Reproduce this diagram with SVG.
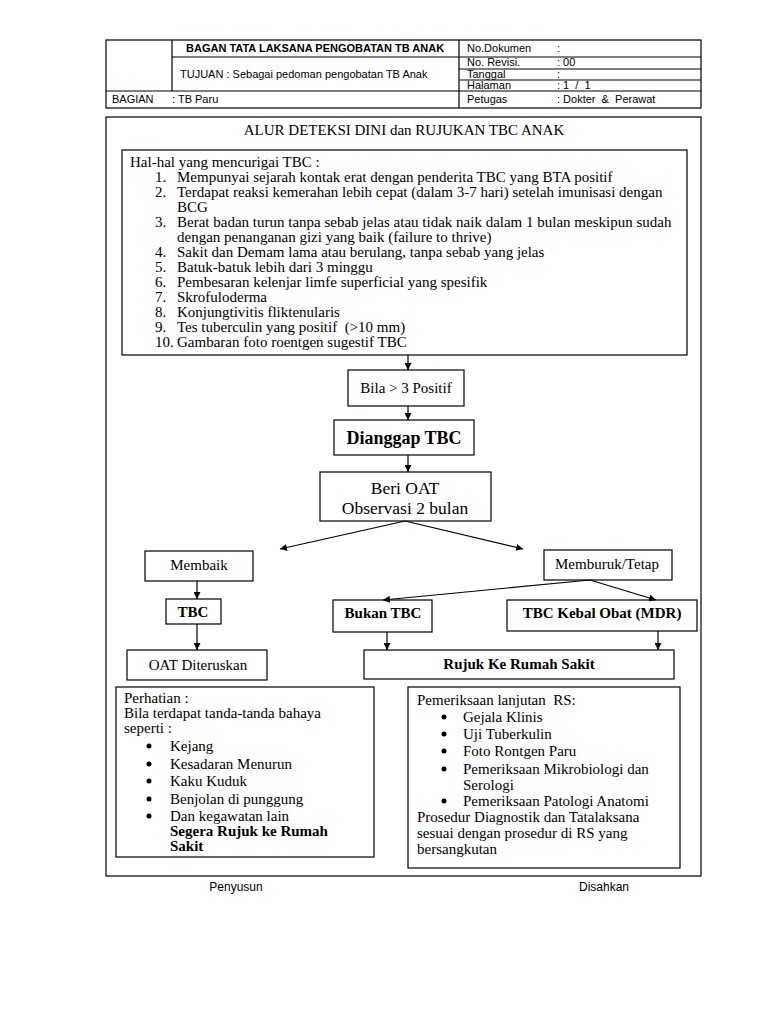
<svg xmlns="http://www.w3.org/2000/svg" width="768" height="1024" viewBox="0 0 768 1024">
<defs>
<style>
.bx{fill:#fff;stroke:#000;stroke-width:1.2}
.ln{fill:none;stroke:#000;stroke-width:1.2}
.hd{font-family:"Liberation Sans",Arial,sans-serif;font-size:11px;fill:#000}
.hb{font-family:"Liberation Sans",Arial,sans-serif;font-size:11px;font-weight:bold;fill:#000}
.s{font-family:"Liberation Serif","Times New Roman",serif;font-size:15px;fill:#000}
.sb{font-family:"Liberation Serif","Times New Roman",serif;font-size:15px;font-weight:bold;fill:#000}
.c{text-anchor:middle}
.con{fill:none;stroke:#000;stroke-width:1.2;marker-end:url(#ah)}
</style>
<marker id="ah" viewBox="0 0 10 10" refX="10" refY="5" markerWidth="7" markerHeight="7" markerUnits="userSpaceOnUse" orient="auto">
<path d="M0,0 L10,5 L0,10 z" fill="#000"/>
</marker>
</defs>
<rect width="768" height="1024" fill="#fff"/>

<g id="header">
<rect class="bx" x="106" y="40" width="595" height="68"/>
<line class="ln" x1="172" y1="40" x2="172" y2="91"/>
<line class="ln" x1="459" y1="40" x2="459" y2="108"/>
<line class="ln" x1="172" y1="57" x2="701" y2="57"/>
<line class="ln" x1="459" y1="69" x2="701" y2="69"/>
<line class="ln" x1="459" y1="80" x2="701" y2="80"/>
<line class="ln" x1="106" y1="91" x2="701" y2="91"/>
<text class="hb" x="186" y="52">BAGAN TATA LAKSANA PENGOBATAN TB ANAK</text>
<text class="hd" x="180" y="78">TUJUAN : Sebagai pedoman pengobatan TB Anak</text>
<text class="hd" x="112" y="103">BAGIAN</text>
<text class="hd" x="172" y="103">: TB Paru</text>
<text class="hd" x="467" y="52">No.Dokumen</text>
<text class="hd" x="557" y="52">:</text>
<text class="hd" x="467" y="66">No. Revisi.</text>
<text class="hd" x="557" y="66">: 00</text>
<text class="hd" x="467" y="78">Tanggal</text>
<text class="hd" x="557" y="78">:</text>
<text class="hd" x="467" y="89">Halaman</text>
<text class="hd" x="557" y="89" xml:space="preserve">: 1  /  1</text>
<text class="hd" x="467" y="103">Petugas</text>
<text class="hd" x="557" y="103" xml:space="preserve">: Dokter  &amp;  Perawat</text>
</g>

<rect class="bx" x="106" y="117" width="595" height="759"/>
<text class="s c" x="404" y="135">ALUR DETEKSI DINI dan RUJUKAN TBC ANAK</text>

<g id="criteria">
<rect class="bx" x="122" y="150" width="565" height="205"/>
<text class="s" x="130" y="167">Hal-hal yang mencurigai TBC :</text>
<text class="s" x="155" y="182">1.</text><text class="s" x="177" y="182">Mempunyai sejarah kontak erat dengan penderita TBC yang BTA positif</text>
<text class="s" x="155" y="197">2.</text><text class="s" x="177" y="197">Terdapat reaksi kemerahan lebih cepat (dalam 3-7 hari) setelah imunisasi dengan</text>
<text class="s" x="177" y="212">BCG</text>
<text class="s" x="155" y="227">3.</text><text class="s" x="177" y="227">Berat badan turun tanpa sebab jelas atau tidak naik dalam 1 bulan meskipun sudah</text>
<text class="s" x="177" y="242">dengan penanganan gizi yang baik (failure to thrive)</text>
<text class="s" x="155" y="257">4.</text><text class="s" x="177" y="257">Sakit dan Demam lama atau berulang, tanpa sebab yang jelas</text>
<text class="s" x="155" y="272">5.</text><text class="s" x="177" y="272">Batuk-batuk lebih dari 3 minggu</text>
<text class="s" x="155" y="287">6.</text><text class="s" x="177" y="287">Pembesaran kelenjar limfe superficial yang spesifik</text>
<text class="s" x="155" y="302">7.</text><text class="s" x="177" y="302">Skrofuloderma</text>
<text class="s" x="155" y="317">8.</text><text class="s" x="177" y="317">Konjungtivitis fliktenularis</text>
<text class="s" x="155" y="332">9.</text><text class="s" x="177" y="332" xml:space="preserve">Tes tuberculin yang positif  (&gt;10 mm)</text>
<text class="s" x="155" y="347">10.</text><text class="s" x="177" y="347">Gambaran foto roentgen sugestif TBC</text>
</g>

<g id="bila">
<rect class="bx" x="348" y="370" width="116" height="36"/>
<text class="s c" x="406" y="393">Bila &gt; 3 Positif</text>
</g>
<g id="dianggap">
<rect class="bx" x="334" y="420" width="140" height="35"/>
<text class="sb c" x="404" y="444" style="font-size:18px">Dianggap TBC</text>
</g>
<g id="beri">
<rect class="bx" x="320" y="472" width="171" height="49"/>
<text class="s c" x="405" y="494" style="font-size:17.5px">Beri OAT</text>
<text class="s c" x="405" y="514" style="font-size:17.5px">Observasi 2 bulan</text>
</g>
<g id="membaik">
<rect class="bx" x="145" y="551" width="108" height="30"/>
<text class="s c" x="199" y="570">Membaik</text>
</g>
<g id="memburuk">
<rect class="bx" x="544" y="550" width="128" height="30"/>
<text class="s c" x="607" y="569">Memburuk/Tetap</text>
</g>
<g id="tbc">
<rect class="bx" x="166" y="599" width="55" height="25"/>
<text class="sb c" x="193" y="617">TBC</text>
</g>
<g id="bukan">
<rect class="bx" x="333" y="600" width="99" height="32"/>
<text class="sb c" x="383" y="618">Bukan TBC</text>
</g>
<g id="mdr">
<rect class="bx" x="507" y="600" width="190" height="31"/>
<text class="sb c" x="602" y="618">TBC Kebal Obat (MDR)</text>
</g>
<g id="oat">
<rect class="bx" x="127" y="650" width="140" height="30"/>
<text class="s c" x="198" y="670">OAT Diteruskan</text>
</g>
<g id="rujuk">
<rect class="bx" x="364" y="650" width="310" height="29"/>
<text class="sb c" x="519" y="669">Rujuk Ke Rumah Sakit</text>
</g>

<g id="perhatian">
<rect class="bx" x="116" y="687" width="258" height="170"/>
<text class="s" x="124" y="703">Perhatian :</text>
<text class="s" x="124" y="718">Bila terdapat tanda-tanda bahaya</text>
<text class="s" x="124" y="733">seperti :</text>
<circle cx="149" cy="746" r="2.5"/><text class="s" x="170" y="751">Kejang</text>
<circle cx="149" cy="764" r="2.5"/><text class="s" x="170" y="769">Kesadaran Menurun</text>
<circle cx="149" cy="781" r="2.5"/><text class="s" x="170" y="786">Kaku Kuduk</text>
<circle cx="149" cy="799" r="2.5"/><text class="s" x="170" y="804">Benjolan di punggung</text>
<circle cx="149" cy="816" r="2.5"/><text class="s" x="170" y="821">Dan kegawatan lain</text>
<text class="sb" x="170" y="836">Segera Rujuk ke Rumah</text>
<text class="sb" x="170" y="851">Sakit</text>
</g>

<g id="pemeriksaan">
<rect class="bx" x="408" y="687" width="272" height="181"/>
<text class="s" x="417" y="705" xml:space="preserve">Pemeriksaan lanjutan  RS:</text>
<circle cx="444" cy="717" r="2.5"/><text class="s" x="463" y="722">Gejala Klinis</text>
<circle cx="444" cy="734" r="2.5"/><text class="s" x="463" y="739">Uji Tuberkulin</text>
<circle cx="444" cy="751" r="2.5"/><text class="s" x="463" y="756">Foto Rontgen Paru</text>
<circle cx="444" cy="769" r="2.5"/><text class="s" x="463" y="774">Pemeriksaan Mikrobiologi dan</text>
<text class="s" x="463" y="790">Serologi</text>
<circle cx="444" cy="801" r="2.5"/><text class="s" x="463" y="806">Pemeriksaan Patologi Anatomi</text>
<text class="s" x="417" y="822">Prosedur Diagnostik dan Tatalaksana</text>
<text class="s" x="417" y="838">sesuai dengan prosedur di RS yang</text>
<text class="s" x="417" y="854">bersangkutan</text>
</g>

<g id="connectors">
<line class="con" x1="408" y1="355" x2="408" y2="370"/>
<line class="con" x1="408" y1="406" x2="408" y2="420"/>
<line class="con" x1="408" y1="455" x2="408" y2="472"/>
<line class="con" x1="405" y1="521" x2="280" y2="549"/>
<line class="con" x1="405" y1="521" x2="523" y2="549"/>
<line class="con" x1="197" y1="581" x2="197" y2="599"/>
<line class="con" x1="197" y1="624" x2="197" y2="650"/>
<line class="con" x1="590" y1="580" x2="383" y2="600"/>
<line class="con" x1="590" y1="580" x2="656" y2="600"/>
<line class="con" x1="387" y1="632" x2="387" y2="650"/>
<line class="con" x1="658" y1="631" x2="658" y2="650"/>
</g>

<text class="hd c" x="236" y="891" style="font-size:12px">Penyusun</text>
<text class="hd c" x="604" y="891" style="font-size:12px">Disahkan</text>
</svg>
